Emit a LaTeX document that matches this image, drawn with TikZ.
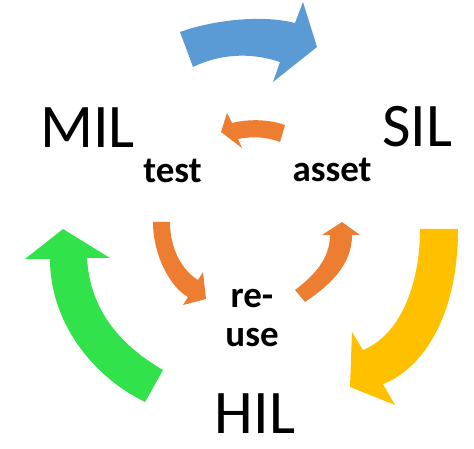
\documentclass[tikz,border=0pt]{standalone}
\usepackage{fontspec}
\setmainfont{Carlito}
\usepackage{xcolor}
\definecolor{cycleblue}{RGB}{91,155,213}
\definecolor{cycleorange}{RGB}{237,125,49}
\definecolor{cycleyellow}{RGB}{255,192,0}
\definecolor{cyclegreen}{RGB}{50,226,74}
\tikzset{
  stage/.style={anchor=base, inner sep=0pt, font=\fontsize{62}{62}\selectfont},
  word/.style={inner sep=0pt, font=\fontsize{37}{39}\selectfont\bfseries},
  blockarrow/.style={draw=none, line join=miter}
}

\begin{document}
\begin{tikzpicture}[x=1pt, y=-1pt]
            \useasboundingbox (0,0) rectangle (474,449);
            % outer cycle labels
            \node[stage] (mil) at (87.5,148) {MIL};
            \node[stage] (sil) at (417.5,147) {SIL};
            \node[stage] (hil) at (255,433) {HIL};
            % inner cycle labels
            \node[word, anchor=base] (test) at (172.5,183) {test};
            \node[word, anchor=base] (asset) at (332,182) {asset};
            \node[word, align=center] (reuse) at (252,317.5) {re-\\use};
            % outer arrows: MIL -> SIL -> HIL -> MIL
            \fill[blockarrow, cycleblue] (180,32) .. controls (210,21) and (260,14) .. (295,23)
                -- (303,2) -- (317,47) -- (273,82) -- (280,62)
                .. controls (250,52) and (220,54) .. (193,67) -- cycle;
            \fill[blockarrow, cycleyellow] (420,229) .. controls (420,285) and (400,335) .. (363,350)
                -- (352,332) -- (350,387) -- (395,405) -- (383,384)
                .. controls (420,370) and (458,320) .. (458,229) -- cycle;
            \fill[blockarrow, cyclegreen] (145,402) .. controls (90,375) and (50,320) .. (50,259)
                -- (25,259) -- (63,229) -- (110,258) -- (87,258)
                .. controls (90,310) and (120,345) .. (163,370) -- cycle;
            % inner arrows: asset -> test -> re-use -> asset
            \fill[blockarrow, cycleorange] (285,125) .. controls (268,119) and (248,119) .. (232,123)
                -- (227,113) -- (221,132) -- (242,148) -- (238,139)
                .. controls (252,136) and (268,137) .. (280,142) -- cycle;
            \fill[blockarrow, cycleorange] (153,222) .. controls (153,255) and (170,287) .. (188,297)
                -- (183,305) -- (206,299) -- (203,272) -- (198,280)
                .. controls (183,271) and (170,250) .. (170,222) -- cycle;
            \fill[blockarrow, cycleorange] (295,290) .. controls (315,275) and (330,258) .. (330,235)
                -- (322,235) -- (342,222) -- (360,235) -- (352,235)
                .. controls (352,265) and (330,285) .. (305,302) -- cycle;
        \end{tikzpicture}
\end{document}
